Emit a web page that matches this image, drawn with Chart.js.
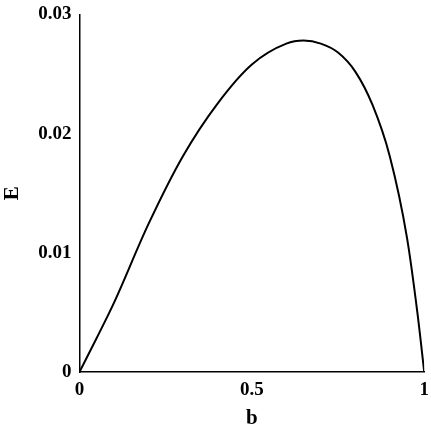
<!DOCTYPE html>
<html><head><script src="https://cdn.jsdelivr.net/npm/chart.js@4"></script>
<style>html,body{margin:0;padding:0;background:#fff}#w{width:431px;height:431px}</style></head>
<body><div id="w"><canvas id="c"></canvas></div>
<script>
const bValues=[0,0.05,0.1,0.2,0.3,0.4,0.5,0.6,0.65,0.7,0.75,0.8,0.85,0.9,0.95,0.98,1];
const eValues=[0,0.00285,0.0058,0.0124,0.0181,0.0225,0.0258,0.02755,0.0278,0.02755,0.0268,0.0252,0.0224,0.0181,0.01125,0.005,0];
const xTicks=[0,0.5,1];
const yTicks=[0,0.01,0.02,0.03];
const font={family:'"Liberation Serif", serif',size:19,weight:'bold'};
new Chart(document.getElementById('c'),{
type:'scatter',
data:{datasets:[{data:bValues.map((b,i)=>({x:b,y:eValues[i]})),showLine:true,borderColor:'#000',borderWidth:2,pointRadius:0,cubicInterpolationMode:'monotone',fill:false}]},
options:{responsive:true,maintainAspectRatio:false,animation:false,
layout:{padding:{top:0,right:4,left:0,bottom:0}},
plugins:{legend:{display:false},tooltip:{enabled:false}},
scales:{
x:{type:'linear',min:0,max:1,afterBuildTicks:a=>{a.ticks=xTicks.map(v=>({value:v}))},
 grid:{display:false,drawTicks:true,tickLength:5,color:'#000'},border:{color:'#000',width:1.5},
 ticks:{color:'#000',font,padding:2,callback:v=>v===0?'0':String(v)},
 title:{display:true,text:'b',color:'#000',font:{...font,size:21},padding:{top:2,bottom:0}}},
y:{min:0,max:0.03,afterBuildTicks:a=>{a.ticks=yTicks.map(v=>({value:v}))},
 grid:{display:false,drawTicks:true,tickLength:5,color:'#000'},border:{color:'#000',width:1.5},
 ticks:{color:'#000',font,padding:3,callback:v=>v===0?'0':v.toFixed(2)},
 title:{display:true,text:'E',color:'#000',font:{...font,size:21},padding:{top:0,bottom:10}}}
}}});
</script></body></html>
